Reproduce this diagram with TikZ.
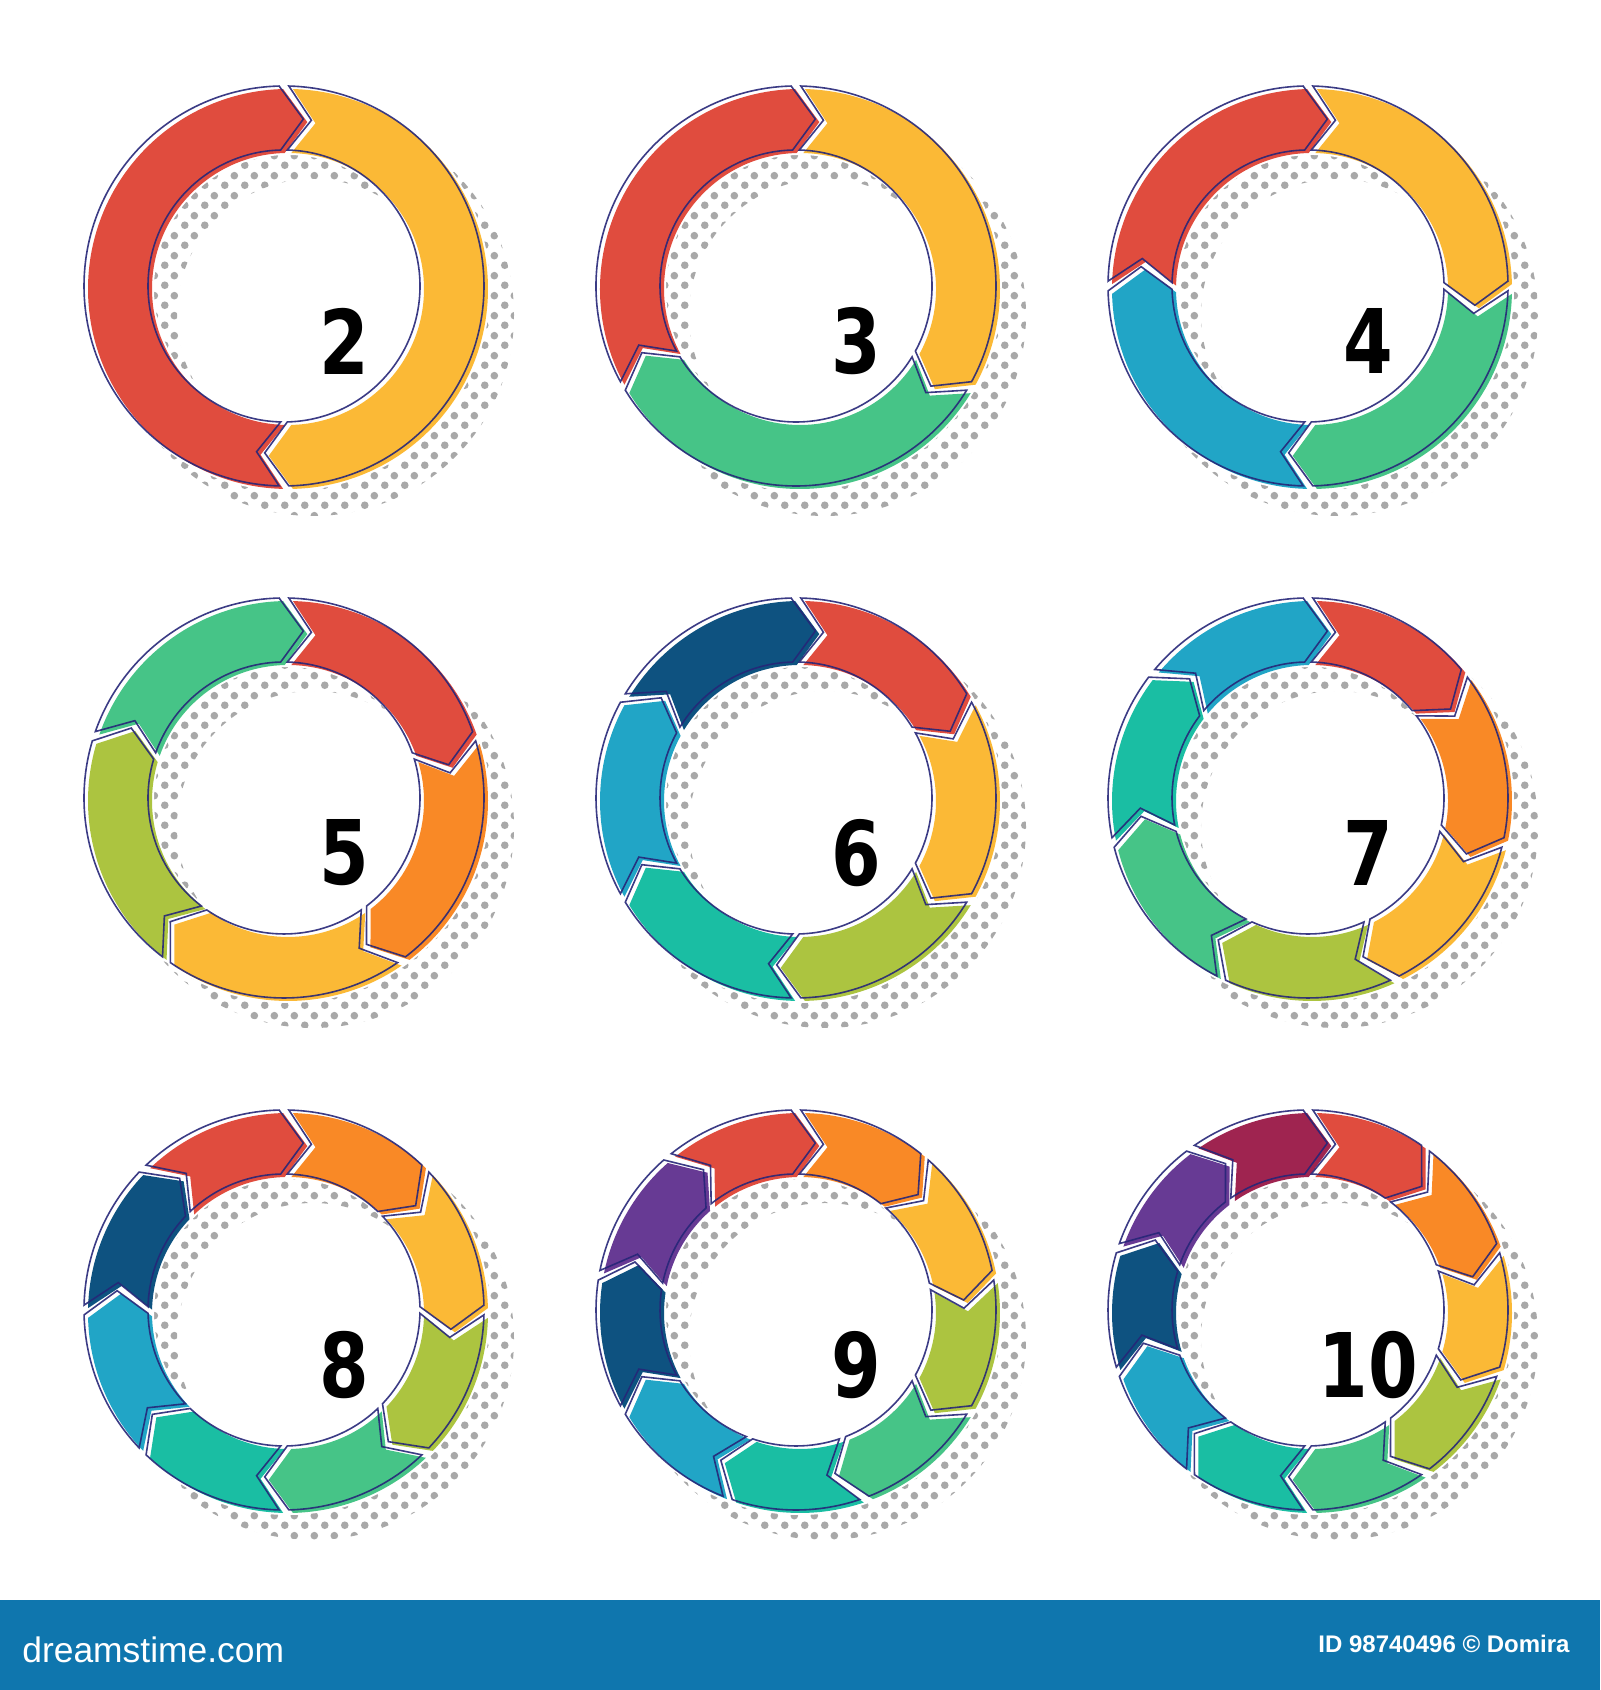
\documentclass[tikz,border=0pt]{standalone}
\usepackage{fontspec}
\setmainfont{Liberation Sans}
\newfontfamily\numfont{DejaVu Sans}
\usetikzlibrary{patterns.meta}
\definecolor{cRed}{RGB}{224,76,62}
\definecolor{cYellow}{RGB}{251,185,54}
\definecolor{cOrange}{RGB}{249,137,38}
\definecolor{cYG}{RGB}{172,196,64}
\definecolor{cGreen}{RGB}{70,196,135}
\definecolor{cTeal}{RGB}{26,190,163}
\definecolor{cBlue}{RGB}{33,165,198}
\definecolor{cDark}{RGB}{14,82,128}
\definecolor{cPurple}{RGB}{103,58,148}
\definecolor{cCrimson}{RGB}{159,36,80}
\definecolor{navyline}{RGB}{38,38,120}
\definecolor{dotgray}{RGB}{168,168,168}
\definecolor{barblue}{RGB}{15,118,174}
\tikzdeclarepattern{
  name=halftone,
  type=uncolored,
  bounding box={(0pt,0pt) and (10pt,10pt)},
  tile size={(10pt,10pt)},
  code={
    \pgfpathcircle{\pgfpoint{2.5pt}{2.5pt}}{2.0pt}
    \pgfpathcircle{\pgfpoint{7.5pt}{7.5pt}}{2.0pt}
    \pgfusepath{fill}
  }
}
\tikzset{
  outline/.style={draw=navyline, line width=0.8pt, draw opacity=0.9, line join=miter},
  numlabel/.style={font=\numfont\bfseries\fontsize{44.6}{50}\selectfont, inner sep=0pt, text=black},
  shadowdots/.style={pattern=halftone, pattern color=dotgray, even odd rule},
}
% #1 cx, #2 cy (y up), #3 number of parts, #4 colours clockwise from top
\newcommand\drawring[4]{%
\begin{scope}[shift={(#1,#2)}]
  \fill[shadowdots] (25,-26) circle (201) (25,-26) circle (136);
  \fill[white, even odd rule] (0,0) circle (202) (0,0) circle (134);
  \foreach \c [count=\i from 0] in {#4} {
    \pgfmathsetmacro\Ag{90-\i*360/#3-1.4}
    \pgfmathsetmacro\Bg{90-(\i+1)*360/#3+1.4}
    \pgfmathsetmacro\At{\Ag-8}
    \pgfmathsetmacro\Bt{\Bg-8}
    \fill[\c] (\Ag:200) arc[start angle=\Ag, end angle=\Bg, radius=200]
      -- (\Bt:168) -- (\Bg:136) arc[start angle=\Bg, end angle=\Ag, radius=136]
      -- (\At:168) -- cycle;
  }
  \begin{scope}[shift={(-4,3)}]
  \foreach \c [count=\i from 0] in {#4} {
    \pgfmathsetmacro\Ag{90-\i*360/#3-1.4}
    \pgfmathsetmacro\Bg{90-(\i+1)*360/#3+1.4}
    \pgfmathsetmacro\At{\Ag-8}
    \pgfmathsetmacro\Bt{\Bg-8}
    \draw[outline] (\Ag:200) arc[start angle=\Ag, end angle=\Bg, radius=200]
      -- (\Bt:168) -- (\Bg:136) arc[start angle=\Bg, end angle=\Ag, radius=136]
      -- (\At:168) -- cycle;
  }
  \end{scope}
  \node[numlabel] (num#3) at (56,-52) {\scalebox{0.8}[1]{#3}};
\end{scope}}

\begin{document}
\begin{tikzpicture}[x=0.5pt, y=0.5pt]
\fill[white] (0,0) rectangle (1600,1690);
\useasboundingbox (0,0) rectangle (1600,1690);

\drawring{288}{1401}{2}{cYellow,cRed}
\drawring{800}{1401}{3}{cYellow,cGreen,cRed}
\drawring{1312}{1401}{4}{cYellow,cGreen,cBlue,cRed}

\drawring{288}{889}{5}{cRed,cOrange,cYellow,cYG,cGreen}
\drawring{800}{889}{6}{cRed,cYellow,cYG,cTeal,cBlue,cDark}
\drawring{1312}{889}{7}{cRed,cOrange,cYellow,cYG,cGreen,cTeal,cBlue}

\drawring{288}{377}{8}{cOrange,cYellow,cYG,cGreen,cTeal,cBlue,cDark,cRed}
\drawring{800}{377}{9}{cOrange,cYellow,cYG,cGreen,cTeal,cBlue,cDark,cPurple,cRed}
\drawring{1312}{377}{10}{cRed,cOrange,cYellow,cYG,cGreen,cTeal,cBlue,cDark,cPurple,cCrimson}

\fill[barblue] (0,0) rectangle (1600,90);
\node[anchor=base west, inner sep=0pt, text=white, font=\fontsize{17.7}{20}\selectfont] (logo) at (22,27) {dreamstime.com};
\node[anchor=base east, inner sep=0pt, text=white, font=\bfseries\fontsize{12}{14}\selectfont] (credit) at (1570,37) {ID 98740496 © Domira};
\end{tikzpicture}
\end{document}
